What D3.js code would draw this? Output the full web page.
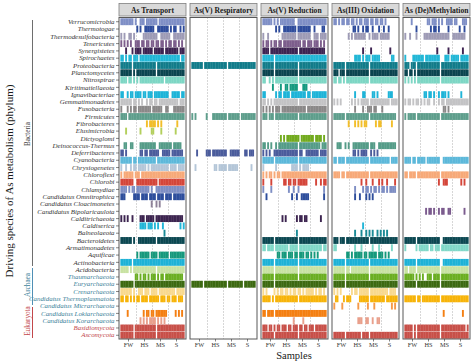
<!DOCTYPE html>
<html><head><meta charset="utf-8">
<script src="https://cdn.jsdelivr.net/npm/d3@7"></script>
<style>html,body{margin:0;padding:0;background:#fff;} svg{display:block;font-family:"Liberation Serif","Times New Roman",serif;}</style>
</head><body><svg id="chart" width="474" height="363"></svg>
<script>
const phyla = ["Verrucomicrobia","Thermotogae","Thermodesulfobacteria","Tenericutes","Synergistetes","Spirochaetes","Proteobacteria","Planctomycetes","Nitrospirae","Kiritimatiellaeota","Ignavibacteriae","Gemmatimonadetes","Fusobacteria","Firmicutes","Fibrobacteres","Elusimicrobia","Dictyoglomi","Deinococcus-Thermus","Deferribacteres","Cyanobacteria","Chrysiogenetes","Chloroflexi","Chlorobi","Chlamydiae","Candidatus Omnitrophica","Candidatus Cloacimonetes","Candidatus Bipolaricaulota","Calditrichaeota","Caldiserica","Balneolaeota","Bacteroidetes","Armatimonadetes","Aquificae","Actinobacteria","Acidobacteria","Thaumarchaeota","Euryarchaeota","Crenarchaeota","Candidatus Thermoplasmatota","Candidatus Micrarchaeota","Candidatus Lokiarchaeota","Candidatus Korarchaeota","Basidiomycota","Ascomycota"];
const kingdoms = ["Bacteria","Archaea","Eukaryota"];
const kingdomSizes = [35, 7, 2];
const rowColors = ["#7F8FC6","#2F4C9C","#9E9BB6","#7D5E8C","#3E2452","#22B7D6","#127C8A","#0B4550","#7DD6C4","#159A80","#1EB4D8","#C3C3C5","#8A8888","#5E9E8C","#F2BE2A","#B3CF5C","#72AA1E","#559C88","#4B5C9C","#5CB8DA","#B4C6D8","#F7A978","#D4463A","#7E8EC4","#2E4E9C","#8E8298","#7B5B8E","#3D2550","#22B6D8","#1A8A96","#0C4852","#80D8C8","#16997C","#1EB2D6","#C8E2A2","#6BAE22","#3D6A12","#F8D98E","#F7B409","#F59A4A","#F47F12","#E9A08C","#C85049","#C85049"];
const panelNames = ["As Transport","As(V) Respiratory","As(V) Reduction","As(III) Oxidation","As (De)Methylation"];
const groups = ["FW","HS","MS","S"];
const perGroup = 10;
const Z = "0000000000 0000000000 0000000000 0000000000";

const transport = [
"1111111101 0011101111 1110111111 1111111111",
"0000000000 1010011111 1001111111 0101100101",
"1010011010 0000111111 1110011111 1001111111",
"1010101001 1101101101 1011011010 1101101010",
"0001000101 1110111111 0111111011 1111110111",
"1101011011 1011111111 1111111111 1111111011",
"1111111011 1111111111 1101111111 1111111111",
"1111111010 1111111111 1101111111 1111111111",
"1111011010 1011111111 1111111011 1111111111",
Z,
"1100101101 1110110111 0111111111 0011111011",
"1111111011 0101001011 0110111111 1111110111",
"1000101011 0111111110 1111110011 0001111111",
"1111011111 1111111111 1111111111 1111111111",
"0000000000 0000001011 1101010000 0000010000",
"0001000000 0010000001 1000010000 0000100000",
Z,
"0011001100 0011111111 1100111111 1101111100",
"1101000000 0011011011 1111001111 1011111110",
"1111111011 0111111111 1101111111 1111111111",
"1001001011 0111110101 1111111111 0111101111",
"1011111101 1101111111 1111111111 1111111111",
"1111111100 1111111111 1110111111 1111111111",
"1111010110 1111111101 0011111111 1111111111",
"1110000011 1101111011 1101111011 1101111111",
"0000000000 0000000001 0010100000 0000000000",
Z,
"1010100100 0011101111 1011111111 1111111110",
"0000000000 0011110111 0101001000 0000000101",
"0000000000 0000000000 0000000100 0000000000",
"1111111010 0111111111 1101111111 1111111111",
Z,
"0000000000 1011111101 1110111111 0111111111",
"1111111011 1111111111 1111111111 1111111111",
"1111101011 1111111111 1101111111 1111111111",
"0000000001 1010110101 1101011011 1111111110",
"1111111101 1111111111 1111111111 1111111111",
"1111111010 0111011101 1110111111 1111011111",
"1101101010 1101111011 1111011101 1011101110",
Z,
"0000100000 0000101101 1011111110 0000101010",
"0000000000 0010101011 1101010100 0000000000",
"1111111101 1111111111 1101111111 1111111111",
"1111111101 1111111111 1101111111 1111111111"];

const respiratory = [Z,Z,Z,Z,Z,Z,
"1111111011 1111111111 1101111111 1111111111",
Z,Z,Z,Z,Z,Z,
"1010000001 0001111111 1101111111 0111111111",
Z,Z,Z,Z,
"0001000001 1101111111 1100111111 0001101110",
Z,
"0010000000 0000110111 1101111110 0000000100",
Z,Z,Z,Z,Z,Z,Z,Z,Z,Z,Z,Z,Z,Z,Z,
"1111111011 1111111111 1101111111 1101111111",
Z,Z,Z,Z,Z,Z,Z];

const reduction = [
"1111110101 0111111111 0011111111 1111111111",
"0000000010 1001111111 1011111111 0010000110",
"1001000000 0011111111 1011111111 0011101111",
"1011010110 1101111111 1111011011 1011101010",
"1111011111 1111111111 1101111111 1111111110",
"1111111011 1111111111 1111111111 1111111111",
"1111111011 1111111111 1101111111 1111111111",
"1111111011 1111111111 1101111111 1111111111",
"1100101011 1111111111 1101111111 1111111111",
"0000001000 0100110111 1100011100 0000000000",
"1100000010 1101111011 1111111011 0111111111",
"1101010111 1111111111 1101111111 1111111111",
"1010101011 1011111111 1111111011 1111111111",
"1110111011 1111111111 1101111111 1111111111",
Z,
Z,
"0000000000 0101011111 1110111111 1101111010",
"1101010010 1111111111 1101111111 1111110111",
"1010100111 1111111111 1101100111 1111101111",
"1111111011 1111111111 1101111111 1111111111",
"1000000010 0000000011 1101011110 0000000000",
"1010110101 1011111111 1111111111 1111111111",
"1000010000 0001101101 1011111100 0001001011",
"1000010000 0000001001 0010000000 0000000010",
"0010000000 0000000010 0100111110 0000000010",
Z,
Z,
"0000000000 0010100000 0101101100 0000001000",
Z,
"0000000000 0000000000 0100000000 0000000000",
"1111111011 1111111111 1101111111 1111111111",
"1101111011 1111110111 1101111111 1111111011",
"0000000001 1011101110 1101110110 1010100000",
"1111111011 1111111111 1101111111 1111111111",
"1111111011 1111111111 1101111111 1111111111",
"1111111011 1111111111 1101111111 1111111111",
"1111111011 1111111111 1111111111 1111111111",
"1010000101 0110110101 1011010111 1101011010",
"1111101011 1111111111 1101111111 1111111111",
Z,
"1101111011 1111111111 1111111111 1111111111",
"0000000000 0000000001 0000010000 0000000000",
"1110110101 1011101101 1101101101 1101111111",
"1111111011 1111111111 1101111111 1111111111"];

const oxidation = [
"1101011011 0110101101 1101101101 1010000000",
"0000000000 0011010010 1100100010 0100100000",
"0000000001 0101111111 0010111101 1111100000",
Z,
"0000000000 0000000010 0001000000 0000010000",
"0000000000 0001111010 1110111110 0000001100",
"1111111011 1111111111 1101111111 1111111111",
"1110111011 1111111111 1101111111 1111111111",
"1101101011 1111111111 1101111111 1111111111",
Z,
"0000000000 0001000011 0000110100 0000111000",
"1010100000 0101010111 1101111111 1111101111",
"0000000000 0001000010 0111011000 1000000000",
"1111111011 1111111111 1101111111 1111111110",
"0000000001 0001010101 1000001011 0000001000",
Z,
Z,
"0011100101 0011111111 1101110011 1111111110",
"0000000000 0011010111 1001010100 0000000000",
"1101111011 1111111111 1101111111 1111101111",
Z,
"1111011011 1111111111 1101111111 1111111111",
"0000000000 0000000100 1000100010 1001000010",
"0000000000 0001000010 1101011010 1101011110",
"0000000000 0001001000 1010100000 0000000000",
Z,
Z,
Z,
"0000000000 0000000010 0000000000 0000000000",
"0000000000 0001000100 1010100101 0101000000",
"1110111011 1111111111 1101111111 1111111111",
"1100000000 0001000100 0000100010 0000001000",
"0000000011 0101111101 1011111011 1010100000",
"1111111011 1111111111 1101111111 1111111111",
"1111111011 0111111111 1101111111 1111111111",
"1111111011 1111111111 1101111111 1111111111",
"1111111011 1111111111 1111111111 1111111111",
"1010100000 0101101111 1101111111 1111011110",
"0110001011 1000001111 1101111111 1101111111",
"1000010000 0000010000 0100010000 0000001010",
Z,
"0000000000 0000011100 1100100110 0000000000",
Z,
"1111111011 1111111011 1101111111 1111111111"];

const methylation = [
"0000100000 0000110111 0101001111 0110001110",
"0000000100 0000001011 0100000100 0000100100",
"1001000100 0011111111 1111111100 1111111100",
Z,
"0000000000 0000000000 1000000100 0000001000",
"1000011111 1101111111 1100011101 1111011111",
"1110111011 1111111111 1101111111 1111111111",
"1101101011 1111111111 1101111111 1111111111",
"1010101011 1111111111 1101111111 1111111111",
Z,
"0000000000 0011011010 0101110100 0000010000",
"1011010110 1010110010 0101101111 1111111111",
"0000000000 0000000000 0000110100 0000000000",
"1011111011 1111111111 1101111111 1111111111",
Z,Z,Z,Z,Z,
"1111011011 1110111111 1100111111 1111111111",
Z,
"1101111011 1111111111 1101111111 1111111111",
"0000000000 0000000000 0100111000 0000010100",
Z,Z,Z,
"0000000000 0001011010 0101100110 0000000100",
Z,Z,Z,
"1111111011 1111111111 1100111111 1111111111",
"1000000101 1111101101 1101111111 1111111111",
Z,
"1111111011 1111111111 1100111111 1111111111",
"1101111011 1111111111 1101111111 1111111111",
"1111110101 0100111011 1101111111 1111111111",
"1111111011 1111111111 1101111111 1111111111",
Z,
"1111111011 0111111111 1101111111 1111111111",
Z,
"0000000000 0000000000 0000100000 0000001000",
Z,
"1111101011 1111111111 1101111111 1111111101",
"1111101011 1111111111 1101111111 1111111111"];

const panelData = [transport, respiratory, reduction, oxidation, methylation];

// ---------- layout ----------
const svg = d3.select("#chart");
const panelTop = 17.5, panelBottom = 339;
const panelW = 67, panelStep = 71, firstLeft = 119;
const samples = groups.flatMap(g => d3.range(perGroup).map(i => g + "_" + (i + 1)));
const y = d3.scaleBand().domain(phyla).range([18.3, 338.7]).paddingInner(0.06);
const kingdomOf = [];
kingdoms.forEach((k, i) => { for (let j = 0; j < kingdomSizes[i]; j++) kingdomOf.push(k); });
const kColor = {Bacteria: "#333333", Archaea: "#3B7F99", Eukaryota: "#C2474B"};
const kLine = {Bacteria: "#6E6E6E", Archaea: "#4F8FB5", Eukaryota: "#C2474B"};

panelNames.forEach((name, p) => {
  const L = firstLeft + p * panelStep;
  const x = d3.scaleBand().domain(samples).range([L + 1.5, L + panelW - 1.5]);
  const gx = d3.scaleBand().domain(groups).range([L + 1.5, L + panelW - 1.5]);
  const g = svg.append("g");
  g.append("rect").attr("x", L).attr("y", panelTop).attr("width", panelW).attr("height", panelBottom - panelTop).attr("fill", "#fff");
  groups.slice(1).forEach(gr => {
    g.append("line").attr("x1", gx(gr)).attr("x2", gx(gr)).attr("y1", panelTop).attr("y2", panelBottom)
      .attr("stroke", "#9A9A9A").attr("stroke-width", 0.8).attr("stroke-dasharray", "1,2");
  });
  const rows = panelData[p];
  const cells = [];
  rows.forEach((str, r) => {
    const bits = str.replace(/ /g, "");
    for (let s = 0; s < bits.length; s++) if (bits[s] === "1") cells.push({r, s});
  });
  g.selectAll("rect.cell").data(cells).join("rect").attr("class", "cell")
    .attr("x", d => x(samples[d.s]) - 0.15)
    .attr("y", d => y(phyla[d.r]))
    .attr("width", x.bandwidth() + 0.3)
    .attr("height", y.bandwidth())
    .attr("fill", d => rowColors[d.r]);
  g.append("rect").attr("x", L).attr("y", panelTop).attr("width", panelW).attr("height", panelBottom - panelTop)
    .attr("fill", "none").attr("stroke", "#595959").attr("stroke-width", 1);
  g.append("rect").attr("x", L).attr("y", 3.5).attr("width", panelW).attr("height", 12.5)
    .attr("fill", "#D9D9D9").attr("stroke", "#7F7F7F").attr("stroke-width", 0.8);
  g.append("text").attr("x", L + panelW / 2).attr("y", 12.6).attr("text-anchor", "middle")
    .attr("font-size", 7.6).attr("font-weight", "bold").attr("fill", "#1A1A1A").text(name);
  const ax = g.append("g").attr("transform", `translate(0,${panelBottom})`)
    .call(d3.axisBottom(gx).tickSize(2.5).tickPadding(1.5));
  ax.select(".domain").remove();
  ax.selectAll(".tick line").attr("stroke", "#333").attr("stroke-width", 0.6);
  ax.selectAll(".tick text").attr("font-size", 6.3).attr("fill", "#333").attr("font-family", "Liberation Serif, serif");
  if (p === 0) {
    const ay = svg.append("g").attr("transform", `translate(${L},0)`)
      .call(d3.axisLeft(y).tickSize(3).tickPadding(1.5));
    ay.select(".domain").remove();
    ay.selectAll(".tick line").attr("stroke", "#333").attr("stroke-width", 0.6);
    ay.selectAll(".tick text").attr("font-size", 6.9).attr("font-style", "italic")
      .attr("font-family", "Liberation Serif, serif")
      .attr("fill", (d, i) => kColor[kingdomOf[i]]);
  }
});

// kingdom brackets
const brackets = [
  {k: "Bacteria", y1: 20, y2: 266, ty: 134},
  {k: "Archaea", y1: 268, y2: 305, ty: 285},
  {k: "Eukaryota", y1: 307, y2: 338, ty: 321}
];
brackets.forEach(b => {
  svg.append("line").attr("x1", 32.5).attr("x2", 32.5).attr("y1", b.y1).attr("y2", b.y2)
    .attr("stroke", kLine[b.k]).attr("stroke-width", 1);
  svg.append("text").attr("transform", `translate(30,${b.ty}) rotate(-90)`).attr("text-anchor", "middle")
    .attr("font-size", 7.2).attr("fill", kColor[b.k] === "#333333" ? "#444" : kColor[b.k]).text(b.k);
});

svg.append("text").attr("transform", "translate(12.5,181) rotate(-90)").attr("text-anchor", "middle")
  .attr("font-size", 11).attr("fill", "#1A1A1A").text("Driving species of As metabolism (phylum)");
svg.append("text").attr("x", 294).attr("y", 359).attr("text-anchor", "middle")
  .attr("font-size", 10.5).attr("fill", "#1A1A1A").text("Samples");
</script></body></html>
